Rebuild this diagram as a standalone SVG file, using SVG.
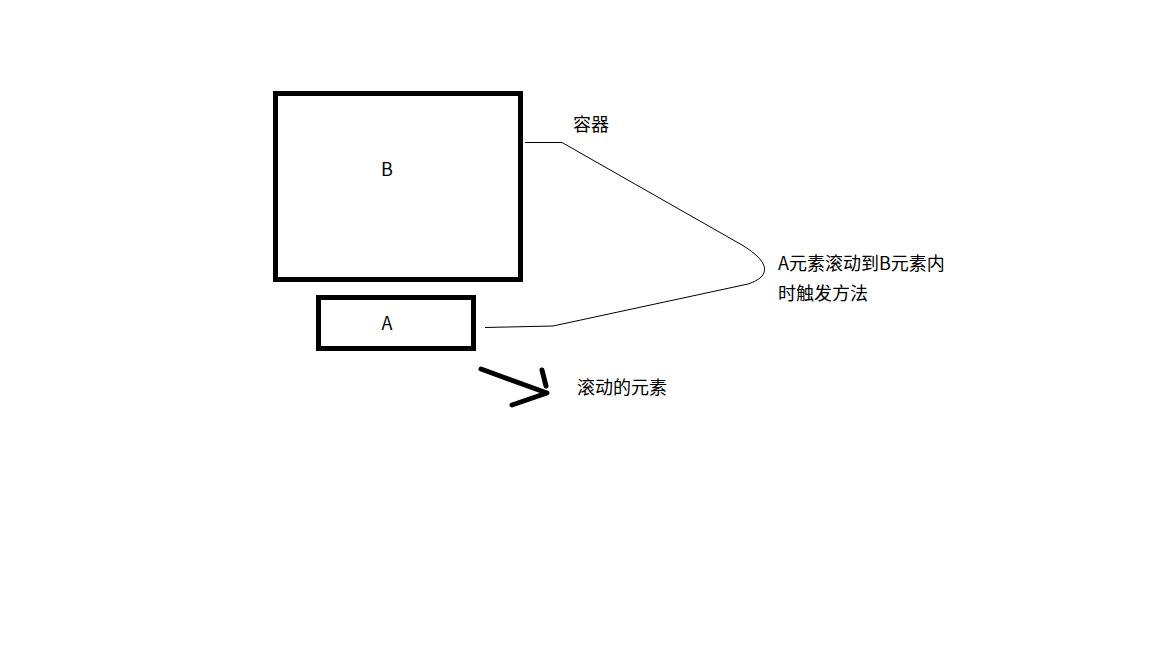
<svg xmlns="http://www.w3.org/2000/svg" width="1152" height="648" viewBox="0 0 1152 648">
<style>
  .box{fill:none;stroke:#000;stroke-width:5}
  .lbl{font-family:"Noto Sans CJK SC","Microsoft YaHei",sans-serif;font-size:18px;fill:#000}
  .thin{fill:none;stroke:#000;stroke-width:1}
  .thick{fill:none;stroke:#000;stroke-width:5;stroke-linecap:round;stroke-linejoin:round}
</style>
<rect width="1152" height="648" fill="#fff"/>
<g id="nodeB">
  <rect class="box" x="275.5" y="93.5" width="245" height="186"/>
  <text class="lbl" x="387" y="176" text-anchor="middle">B</text>
</g>
<g id="nodeA">
  <rect class="box" x="318.5" y="297.5" width="155" height="51"/>
  <text class="lbl" x="387" y="330" text-anchor="middle">A</text>
</g>
<g id="labels">
  <text class="lbl" x="573" y="131">容器</text>
  <text class="lbl" x="778" y="270">A元素滚动到B元素内</text>
  <text class="lbl" x="778" y="300">时触发方法</text>
  <text class="lbl" x="577" y="394">滚动的元素</text>
</g>
<g id="connectors">
  <path class="thin" d="M525 142.5 H562 L742 245 C770 262 772 276 748 284 L553 326 L485 327.5"/>
  <path class="thick" d="M481 369 L547 393 L512 405"/>
  <path class="thick" d="M542 370 L546 386"/>
</g>
</svg>
